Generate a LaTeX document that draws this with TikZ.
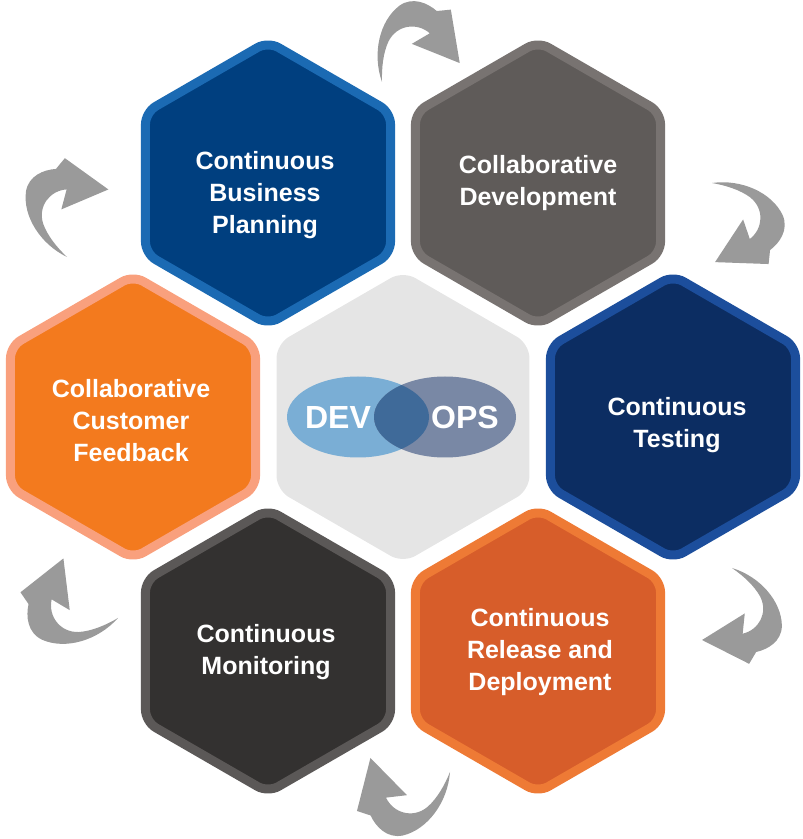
\documentclass[tikz,border=0pt]{standalone}
\usepackage{fontspec}
\setmainfont{Liberation Sans}
\usetikzlibrary{shapes.geometric}
\definecolor{bpin}{HTML}{003F7F}
\definecolor{bpout}{HTML}{1B6AB3}
\definecolor{cdin}{HTML}{5F5B59}
\definecolor{cdout}{HTML}{787371}
\definecolor{ctin}{HTML}{0C2D62}
\definecolor{ctout}{HTML}{1C4E9C}
\definecolor{crdin}{HTML}{D75D2A}
\definecolor{crdout}{HTML}{EE7A35}
\definecolor{cmin}{HTML}{333130}
\definecolor{cmout}{HTML}{5B5857}
\definecolor{ccfin}{HTML}{F37A1E}
\definecolor{ccfout}{HTML}{F9A07D}
\definecolor{hubgray}{HTML}{E5E5E5}
\definecolor{devblue}{HTML}{7AAED5}
\definecolor{opsblue}{HTML}{7988A5}
\definecolor{bothblue}{HTML}{3F6A99}
\definecolor{arrowgray}{HTML}{9A9A9A}
\begin{document}
\begin{tikzpicture}[x=1pt,y=1pt,
  hexa/.style={regular polygon,regular polygon sides=6,shape border rotate=30,
    minimum size=283pt,inner sep=0pt,line width=9pt,rounded corners=12pt},
  hexatext/.style={text=white,align=center,font=\bfseries\fontsize{25}{32}\selectfont},
  lobe/.style={ellipse,inner sep=0pt,minimum width=142pt,minimum height=81pt},
  lobetext/.style={text=white,font=\bfseries\fontsize{32}{36}\selectfont}]
\useasboundingbox (0,0) rectangle (803,839);
% centre
\node[regular polygon,regular polygon sides=6,shape border rotate=30,minimum size=292pt,
  inner sep=0pt,rounded corners=14pt,fill=hubgray] (hub) at (403,422) {};
\node[lobe,fill=devblue] (dev) at (358,422) {};
\node[lobe,fill=opsblue] (ops) at (445,422) {};
\begin{scope}
\clip (358,422) ellipse [x radius=71,y radius=40.5];
\fill[bothblue] (445,422) ellipse [x radius=71,y radius=40.5];
\end{scope}
\node[lobetext] (devlbl) at (338,422) {DEV};
\node[lobetext] (opslbl) at (465,422) {OPS};
% ring of hexagons
\node[hexa,draw=bpout,fill=bpin] (bp) at (268,656) {};
\node[hexa,draw=cdout,fill=cdin] (cd) at (538,656) {};
\node[hexa,draw=ctout,fill=ctin] (ct) at (673,422) {};
\node[hexa,draw=crdout,fill=crdin] (crd) at (538,188) {};
\node[hexa,draw=cmout,fill=cmin] (cm) at (268,188) {};
\node[hexa,draw=ccfout,fill=ccfin] (ccf) at (133,422) {};
\node[hexatext] (bptext) at (265,644) {Continuous\\Business\\Planning};
\node[hexatext] (cdtext) at (538,656) {Collaborative\\Development};
\node[hexatext] (cttext) at (677,414) {Continuous\\Testing};
\node[hexatext] (crdtext) at (540,187) {Continuous\\Release and\\Deployment};
\node[hexatext] (cmtext) at (266,187) {Continuous\\Monitoring};
\node[hexatext] (ccftext) at (131,418) {Collaborative\\Customer\\Feedback};
% curved arrows
\foreach \tx/\ty/\ang/\s in {382/757/13.7/1.0, 712/656/-87.8/0.99, 732/271/-112.6/0.975,
    450/67/170/1.01, 118/221/132.5/1.01, 67/582/58.5/0.99}
  \fill[arrowgray,shift={(\tx,\ty)},rotate=\ang,scale=\s]
    (0,0) .. controls (-3,30) and (12,60) .. (35,70)
    .. controls (50,76) and (63,66) .. (70,56) -- (84,54) -- (80,0) -- (38,30) -- (58,36)
    .. controls (48,50) and (28,52) .. (16,38) .. controls (8,28) and (3,14) .. (0,0) -- cycle;
\end{tikzpicture}
\end{document}
